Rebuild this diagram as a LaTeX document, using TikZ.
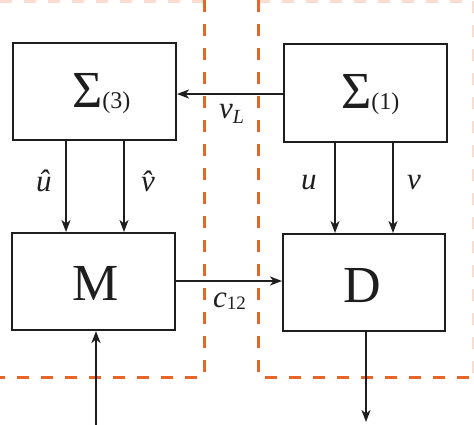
\documentclass[tikz,border=0pt]{standalone}
\usepackage{fontspec}
\setmainfont{Liberation Serif}
\usetikzlibrary{arrows.meta,calc}
\definecolor{dorange}{RGB}{232,100,40}
\definecolor{ink}{RGB}{30,30,30}
\begin{document}
\begin{tikzpicture}[x=1pt,y=-1pt,
  box/.style={draw=ink,line width=2pt,inner sep=0pt},
  conn/.style={draw=ink,line width=2pt,-{Stealth[length=12pt,width=9pt,inset=3.5pt]}},
  region/.style={draw=dorange,line width=3pt,dash pattern=on 12pt off 12pt},
  faint/.style={draw=dorange!22,line width=3pt,dash pattern=on 12pt off 12pt},
  big/.style={inner sep=0pt,anchor=base west,text=ink,font=\fontsize{52}{56}\selectfont},
  lab/.style={inner sep=0pt,anchor=base west,text=ink,font=\fontsize{31}{34}\selectfont\itshape}]
\useasboundingbox (0,0) rectangle (474,424);
% regions
\draw[faint] (0,1) -- (204,1);
\draw[faint] (258,1) -- (474,1);
\draw[faint] (473,1) -- (473,377);
\draw[region] (204,0) -- (204,377) -- (0,377);
\draw[region] (258,0) -- (258,377) -- (474,377);
% boxes
\node[box,minimum width=163pt,minimum height=97pt] (S3) at (94.5,91.5) {};
\node[box,minimum width=163pt,minimum height=98pt] (S1) at (365.5,93) {};
\node[box,minimum width=163pt,minimum height=97pt] (M) at (93.5,281.5) {};
\node[box,minimum width=162pt,minimum height=97pt] (D) at (364,282.5) {};
% box texts
\node[big] (S3t) at (72,107) {Σ\raisebox{-1pt}{\fontsize{24}{26}\selectfont(3)}};
\node[big] (S1t) at (341,108) {Σ\raisebox{-1pt}{\fontsize{24}{26}\selectfont(1)}};
\node[big] (Mt) at (72,300) {M};
\node[big] (Dt) at (343,302) {D};
% connector columns / rows
\coordinate (rowL) at (0,94);
\coordinate (rowC) at (0,281);
\coordinate (uh) at (66,0);
\coordinate (vh) at (124,0);
\coordinate (uu) at (335,0);
\coordinate (vv) at (393,0);
\coordinate (inp) at (96,430);
\coordinate (outp) at (366,422);
% connectors
\draw[conn] (S1.west |- rowL) -- (S3.east |- rowL);
\draw[conn] (M.east |- rowC) -- (D.west |- rowC);
\draw[conn] (uh |- S3.south) -- (uh |- M.north);
\draw[conn] (vh |- S3.south) -- (vh |- M.north);
\draw[conn] (uu |- S1.south) -- (uu |- D.north);
\draw[conn] (vv |- S1.south) -- (vv |- D.north);
\draw[conn] (inp) -- (inp |- M.south);
\draw[conn] (outp |- D.south) -- (outp);
% labels
\node[lab] (lvL) at (219,118) {v\raisebox{-5pt}{\fontsize{20}{22}\selectfont L}};
\node[lab] (lc) at (213,307) {c\raisebox{-2pt}{\fontsize{19}{21}\selectfont\upshape 12}};
\node[lab] (luh) at (36,191) {û};
\node[lab] (lvh) at (141,191) {v̂};
\node[lab] (lu) at (301,189) {u};
\node[lab] (lv) at (407,189) {v};
\end{tikzpicture}
\end{document}
